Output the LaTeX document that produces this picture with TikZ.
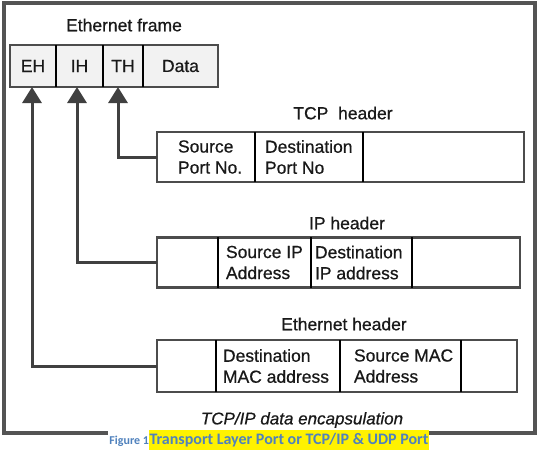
\documentclass[tikz,border=0pt]{standalone}
\usepackage{fontspec}
\setmainfont{Liberation Sans}[UprightFeatures={FakeBold=0.6},ItalicFeatures={FakeBold=0.6}]
\newfontfamily\capfont{Carlito}
\usepackage{tikz}
\usetikzlibrary{arrows.meta,positioning,calc}
\definecolor{frameGray}{rgb}{0.33 0.33 0.33}
\definecolor{boxGray}{rgb}{0.30 0.30 0.30}
\definecolor{capBlue}{rgb}{0.31 0.506 0.741}

\begin{document}
\begin{tikzpicture}[x=1pt,y=-1pt,
    every node/.style={inner sep=0pt,outer sep=0pt,font=\fontsize{17.5}{21}\selectfont,text=black!90},
    fcell/.style={minimum height=42pt,anchor=center},
    hdrbox/.style={draw=boxGray,line width=2.8pt,fill=white,minimum height=50pt},
    divider/.style={black,line width=2.6pt},
    link/.style={black!75,line width=3pt,-{Triangle[width=19pt,length=16pt]}},
    celltext/.style={anchor=west,align=left}]

      \useasboundingbox (0,0) rectangle (539,453);

      % outer frame
      \draw [frameGray,line width=3.4pt] (4,3) rectangle (535,433);

      % ethernet frame
      \node (frameTitle) at (124,25) {Ethernet frame};
      \draw [boxGray,line width=2.8pt,fill=black!5] (10,45) rectangle (218,87);
      \node [fcell,minimum width=46pt] (eh) at (33,66) {EH};
      \node [fcell,minimum width=47pt] (ih) at (79.5,66) {IH};
      \node [fcell,minimum width=40pt] (th) at (123,66) {TH};
      \node [fcell,minimum width=75pt] (data) at (180.5,66) {Data};
      \foreach \c in {eh,ih,th}
      \draw [divider] (\c.north east) -- (\c.south east);

      % the three headers
      \node (tcpTitle) at (343,113) {TCP\ \ header};
      \node [hdrbox,minimum width=367pt] (tcp) at (340.5,157) {};
      \foreach \x in {255,363} \draw [divider] (\x,132) -- (\x,182);
      \node [celltext] (srcPort) at (178,157) {Source\\Port No.};
      \node [celltext] (dstPort) at (265,157) {Destination\\Port No};

      \node (ipTitle) at (347,223) {IP header};
      \node [hdrbox,minimum width=363pt] (ip) at (338.5,262.5) {};
      \foreach \x in {218,311,412} \draw [divider] (\x,237) -- (\x,288);
      \node [celltext] (srcIP) at (226,262.5) {Source IP\\Address};
      \node [celltext] (dstIP) at (315,262.5) {Destination\\IP address};

      \node (ethTitle) at (344,324) {Ethernet header};
      \node [hdrbox,minimum width=360pt,minimum height=52pt] (eth) at (337,366) {};
      \foreach \x in {216,340,461} \draw [divider] (\x,340) -- (\x,392);
      \node [celltext] (dstMac) at (223,366) {Destination\\MAC address};
      \node [celltext] (srcMac) at (354,366) {Source MAC\\Address};

      % links up to the frame
      \draw [link] (tcp.west) -| ([xshift=-5pt]th.south);
      \draw [link] (ip.west) -| ([xshift=-2.5pt]ih.south);
      \draw [link] (eth.west) -| ([xshift=-1pt]eh.south);

      \node [font=\fontsize{17}{20}\selectfont\itshape] (encap) at (302,420) {TCP/IP data encapsulation};

      % caption
      \fill [white] (108,429) rectangle (149,453);
      \node [anchor=west,fill=yellow,minimum height=20pt,inner xsep=0.5pt,text=capBlue,font=\capfont\bfseries\fontsize{16}{18}\selectfont] (capText) at (149,440) {Transport Layer Port or TCP/IP \& UDP Port};
      \node [anchor=base east,text=capBlue,font=\capfont\bfseries\fontsize{12}{14}\selectfont] (capNum) at (capText.base west) {Figure 1};

    \end{tikzpicture}
\end{document}
